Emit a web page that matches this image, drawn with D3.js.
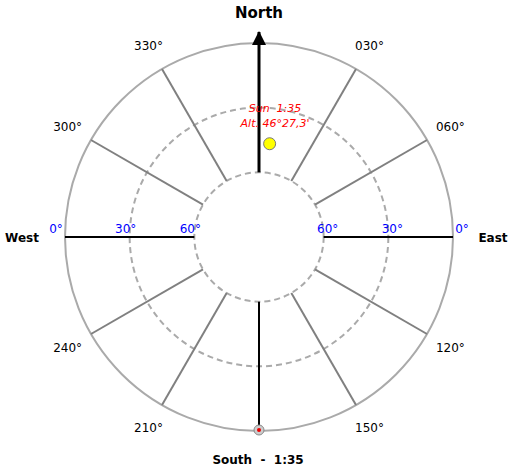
<!DOCTYPE html><html><head><script src="https://cdn.jsdelivr.net/npm/d3@7"></script>
<style>body{margin:0;background:#fff}text{font-family:"DejaVu Sans",Verdana,sans-serif;white-space:pre}</style></head><body>
<svg id="c" width="510" height="469"></svg>
<script>
const altRings=[0,30,60];
const spokes=[30,60,120,150,210,240,300,330];
const spokeLabels=["030","060","120","150","210","240","300","330"];
const sunAz=[6.5];
const sunAlt=[46.455];
const sunTime=["1:35"];
const cx=259,cy=237,R=194;
const svg=d3.select("#c");
const r=d3.scaleLinear().domain([90,0]).range([0,R]);
const pt=(az,rad)=>[cx+rad*Math.sin(az*Math.PI/180),cy-rad*Math.cos(az*Math.PI/180)];
svg.append("circle").attr("cx",cx).attr("cy",cy).attr("r",r(0)).attr("fill","none").attr("stroke","#aaa").attr("stroke-width",2);
[30,60].forEach(a=>svg.append("circle").attr("cx",cx).attr("cy",cy).attr("r",r(a)).attr("fill","none").attr("stroke","#aaa").attr("stroke-width",2).attr("stroke-dasharray","6,4"));
spokes.forEach((az,i)=>{
 const a=pt(az,r(60)),b=pt(az,r(0));
 svg.append("line").attr("x1",a[0]).attr("y1",a[1]).attr("x2",b[0]).attr("y2",b[1]).attr("stroke","#808080").attr("stroke-width",2);
 const l=pt(az,r(0)+27);
 svg.append("text").attr("x",l[0]).attr("y",l[1]+4).attr("text-anchor","middle").attr("font-size",12).text(spokeLabels[i]+"°");
});
[0,90,180,270].forEach(az=>{
 const a=pt(az,r(60)),b=pt(az,az===0?r(0)+11:r(0));
 svg.append("line").attr("x1",a[0]).attr("y1",a[1]).attr("x2",b[0]).attr("y2",b[1]).attr("stroke","#000").attr("stroke-width",az===0?3:2);
});
svg.append("path").attr("d",`M${cx-7},${cy-r(0)+2}L${cx},${cy-r(0)-12}L${cx+7},${cy-r(0)+2}Z`).attr("fill","#000");
altRings.forEach(a=>{
 svg.append("text").attr("x",cx-r(a)+(a===0?-9:-4)).attr("y",cy-4).attr("text-anchor","middle").attr("fill","#0000ff").attr("font-size",12).text(a+"°");
 svg.append("text").attr("x",cx+r(a)+(a===0?9:4)).attr("y",cy-4).attr("text-anchor","middle").attr("fill","#0000ff").attr("font-size",12).text(a+"°");
});
svg.append("text").attr("x",259).attr("y",18).attr("text-anchor","middle").attr("font-weight","bold").attr("font-size",15).text("North");
svg.append("text").attr("x",22).attr("y",242).attr("text-anchor","middle").attr("font-weight","bold").attr("font-size",12).text("West");
svg.append("text").attr("x",493).attr("y",242).attr("text-anchor","middle").attr("font-weight","bold").attr("font-size",12).text("East");
svg.append("text").attr("x",258).attr("y",464).attr("text-anchor","middle").attr("font-weight","bold").attr("font-size",12).text("South  -  "+sunTime[0]);
const sm=pt(180,r(0));
svg.append("circle").attr("cx",sm[0]).attr("cy",sm[1]-1).attr("r",5).attr("fill","#ccc").attr("stroke","#888");
svg.append("circle").attr("cx",sm[0]).attr("cy",sm[1]-1).attr("r",2).attr("fill","#e00");
const s=pt(sunAz[0],r(sunAlt[0]));
svg.append("circle").attr("cx",s[0]).attr("cy",s[1]).attr("r",6).attr("fill","#ffff00").attr("stroke","#777");
svg.append("text").attr("x",275).attr("y",112).attr("text-anchor","middle").attr("fill","#ff0000").attr("font-style","italic").attr("font-size",11).text("Sun  "+sunTime[0]);
const d=Math.floor(sunAlt[0]),m=((sunAlt[0]-d)*60).toFixed(1).replace(".",",");
svg.append("text").attr("x",275).attr("y",127).attr("text-anchor","middle").attr("fill","#ff0000").attr("font-style","italic").attr("font-size",11).text(`Alt. ${d}°${m}'`);
</script></body></html>
